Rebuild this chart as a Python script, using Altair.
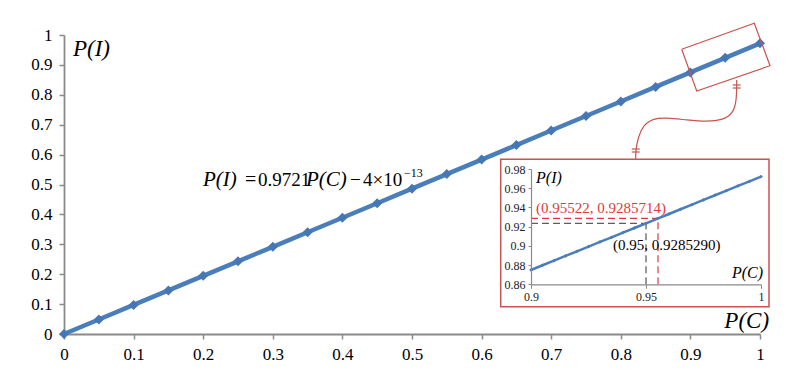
import altair as alt
import pandas as pd

FONT = "Times New Roman, Liberation Serif, Tinos, DejaVu Serif, serif"
BLUE = "#4A7EBB"
RED = "#C9534F"
TXT_RED = "#E0393E"
AXIS_GRAY = "#8A8A8A"

# ---------------- data ----------------
p_c = [0.0, 0.05, 0.1, 0.15, 0.2, 0.25, 0.3, 0.35, 0.4, 0.45, 0.5,
       0.55, 0.6, 0.65, 0.7, 0.75, 0.8, 0.85, 0.9, 0.95, 1.0]
p_i = [0.0, 0.0486, 0.0972, 0.1458, 0.1944, 0.2430, 0.2916, 0.3402, 0.3888, 0.4374, 0.4861,
       0.5347, 0.5833, 0.6319, 0.6805, 0.7291, 0.7777, 0.8263, 0.8749, 0.9235, 0.9721]

inset_pc = [0.9, 0.905, 0.91, 0.915, 0.92, 0.925, 0.93, 0.935, 0.94, 0.945, 0.95,
            0.955, 0.96, 0.965, 0.97, 0.975, 0.98, 0.985, 0.99, 0.995, 1.0]
inset_pi = [0.8749, 0.8798, 0.8846, 0.8895, 0.8943, 0.8992, 0.9041, 0.9089, 0.9138, 0.9186, 0.9235,
            0.9284, 0.9332, 0.9381, 0.9429, 0.9478, 0.9527, 0.9575, 0.9624, 0.9672, 0.9721]

main_x_ticks = [0, 0.1, 0.2, 0.3, 0.4, 0.5, 0.6, 0.7, 0.8, 0.9, 1]
main_y_ticks = [0, 0.1, 0.2, 0.3, 0.4, 0.5, 0.6, 0.7, 0.8, 0.9, 1]
inset_x_ticks = [0.9, 0.95, 1]
inset_y_ticks = [0.86, 0.88, 0.9, 0.92, 0.94, 0.96, 0.98]

# marked points in the inset
black_pt = (0.95, 0.9235)
red_pt = (0.95522, 0.9285714)
black_label = "(0.95, 0.9285290)"
red_label = "(0.95522, 0.9285714)"

# zoom box drawn around the top of the main line (main data units)
zoom_box_x = [0.8875, 0.9918, 1.0144, 0.9091, 0.8875]
zoom_box_y = [0.9522, 1.0391, 0.8973, 0.8127, 0.9522]

# connector curve from zoom box down to the inset (main data units)
conn_x = [0.9665, 0.9665, 0.9616, 0.9473, 0.9234, 0.8947, 0.8659, 0.8467, 0.8323, 0.8251, 0.8214, 0.8214]
conn_y = [0.8495, 0.7826, 0.7381, 0.7157, 0.7100, 0.7157, 0.7234, 0.7214, 0.6990, 0.6599, 0.6154, 0.5843]

# small double break marks on the connector
brk_x1 = [0.9608, 0.9608, 0.8157, 0.8157]
brk_x2 = [0.9723, 0.9723, 0.8272, 0.8272]
brk_y = [0.8328, 0.8227, 0.6187, 0.6087]

# inset frame (inset data units)
inset_frame = dict(x0=0.88683, x1=1.00348, y0=0.83669, y1=0.99010)

# ---------------- scales / axes ----------------
MXS = alt.Scale(domain=[0, 1], nice=False, zero=False)
MYS = alt.Scale(domain=[0, 1], nice=False, zero=False)
MXA = alt.Axis(orient="bottom", values=main_x_ticks, format="~g", title=None, grid=False,
               labelFont=FONT, labelFontSize=17, labelColor="black", labelPadding=7,
               tickSize=5, tickColor=AXIS_GRAY, tickWidth=1.5,
               domainColor=AXIS_GRAY, domainWidth=1.8, labelFlush=False)
MYA = alt.Axis(orient="left", values=main_y_ticks, format="~g", title=None, grid=False,
               labelFont=FONT, labelFontSize=17, labelColor="black", labelPadding=7,
               tickSize=5, tickColor=AXIS_GRAY, tickWidth=1.5,
               domainColor=AXIS_GRAY, domainWidth=1.8, labelFlush=False)

IXS = alt.Scale(domain=[0.9, 1], range=[467, 697], nice=False, zero=False)
IYS = alt.Scale(domain=[0.86, 0.98], range=[249.3, 134], nice=False, zero=False)
IXA = alt.Axis(orient="bottom", offset=-49.7, values=inset_x_ticks, format="~g", title=None,
               grid=False, zindex=1, labelFont=FONT, labelFontSize=12, labelColor="#222222",
               labelPadding=3, tickSize=4, tickColor=AXIS_GRAY, domainColor=AXIS_GRAY,
               domainWidth=1.2, labelFlush=False)
IYA = alt.Axis(orient="left", offset=-467, values=inset_y_ticks, format="~g", title=None,
               grid=False, zindex=1, labelFont=FONT, labelFontSize=12, labelColor="#222222",
               labelPadding=3, tickSize=3, tickColor=AXIS_GRAY, domainColor=AXIS_GRAY,
               domainWidth=1.2, labelFlush=False)


def mx(f):
    return alt.X(f, type="quantitative", scale=MXS, axis=MXA)


def my(f):
    return alt.Y(f, type="quantitative", scale=MYS, axis=MYA)


def ix(f):
    return alt.X(f, type="quantitative", scale=IXS, axis=IXA)


def iy(f):
    return alt.Y(f, type="quantitative", scale=IYS, axis=IYA)


# ---------------- main layers ----------------
main_df = pd.DataFrame({"x": p_c, "y": p_i})
main_line = alt.Chart(main_df).mark_line(color=BLUE, strokeWidth=4.5).encode(x=mx("x"), y=my("y"))
main_pts = alt.Chart(main_df).mark_point(shape="diamond", filled=True, size=100, color="#4677B5",
                                         opacity=1).encode(x=mx("x"), y=my("y"))

box_df = pd.DataFrame({"x": zoom_box_x, "y": zoom_box_y, "i": list(range(len(zoom_box_x)))})
zoom_box = alt.Chart(box_df).mark_line(color=RED, strokeWidth=1.2, clip=False).encode(
    x=mx("x"), y=my("y"), order="i:Q")

conn_df = pd.DataFrame({"x": conn_x, "y": conn_y, "i": list(range(len(conn_x)))})
conn = alt.Chart(conn_df).mark_line(color=RED, strokeWidth=1.2, interpolate="basis",
                                    clip=False).encode(x=mx("x"), y=my("y"), order="i:Q")

brk_df = pd.DataFrame({"x": brk_x1, "x2": brk_x2, "y": brk_y})
brk = alt.Chart(brk_df).mark_rule(color=RED, strokeWidth=1.2).encode(
    x=mx("x"), x2="x2", y=my("y"))

lbl_df = pd.DataFrame({"x": [0.0129, 1.013], "y": [0.93, 0.02], "t": ["P(I)", "P(C)"]})
ax_pi = alt.Chart(lbl_df.iloc[[0]]).mark_text(font=FONT, fontSize=23, fontStyle="italic",
                                               align="left", baseline="alphabetic",
                                               color="black").encode(x=mx("x"), y=my("y"), text="t")
ax_pc = alt.Chart(lbl_df.iloc[[1]]).mark_text(font=FONT, fontSize=23, fontStyle="italic",
                                               align="right", baseline="alphabetic",
                                               color="black").encode(x=mx("x"), y=my("y"), text="t")

eq_anchor = pd.DataFrame({"x": [0.1997], "y": [0.495]})
eq_pieces = [
    ("P(I)", 0, 0, 21, "italic"),
    ("=", 42, 0, 20, "normal"),
    ("0.9721", 55, 0, 19, "normal"),
    ("P(C)", 103, 0, 21, "italic"),
    ("\u2212", 147, 0, 19, "normal"),
    ("4\u00d710", 160, 0, 19, "normal"),
    ("\u221213", 201, -9, 12, "normal"),
]
eq_layers = []
for txt, dx, dy, fs, st in eq_pieces:
    eq_layers.append(
        alt.Chart(eq_anchor).mark_text(text=txt, dx=dx, dy=dy, font=FONT, fontSize=fs,
                                       fontStyle=st, align="left", baseline="alphabetic",
                                       color="black").encode(x=mx("x"), y=my("y")))

main = alt.layer(main_line, main_pts, zoom_box, conn, brk, ax_pi, ax_pc, *eq_layers)

# ---------------- inset layers ----------------
frame_df = pd.DataFrame([inset_frame])
frame = alt.Chart(frame_df).mark_rect(fill="white", stroke=RED, strokeWidth=1.5, clip=False).encode(
    x=ix("x0"), x2="x1", y=iy("y0"), y2="y1")

inset_df = pd.DataFrame({"x": inset_pc, "y": inset_pi})
inset_line = alt.Chart(inset_df).mark_line(color=BLUE, strokeWidth=2.5).encode(x=ix("x"), y=iy("y"))
inset_pts = alt.Chart(inset_df).mark_point(shape="diamond", filled=True, size=14, color=BLUE,
                                           opacity=1).encode(x=ix("x"), y=iy("y"))

blk_df = pd.DataFrame({"x": [black_pt[0], 0.9], "x2": [black_pt[0], black_pt[0]],
                       "y": [0.86, black_pt[1]], "y2": [black_pt[1], black_pt[1]]})
red_df = pd.DataFrame({"x": [red_pt[0], 0.9], "x2": [red_pt[0], red_pt[0]],
                       "y": [0.86, red_pt[1]], "y2": [red_pt[1], red_pt[1]]})
blk_dash = alt.Chart(blk_df).mark_rule(color="#333333", strokeWidth=1, strokeDash=[7, 4]).encode(
    x=ix("x"), x2="x2", y=iy("y"), y2="y2")
red_dash = alt.Chart(red_df).mark_rule(color=TXT_RED, strokeWidth=1.2, strokeDash=[7, 4]).encode(
    x=ix("x"), x2="x2", y=iy("y"), y2="y2")

itxt = pd.DataFrame({
    "x": [0.9022, 1.0009, 0.9022, 0.9357],
    "y": [0.9654, 0.8666, 0.9342, 0.8957],
    "t": ["P(I)", "P(C)", red_label, black_label],
})
i_pi = alt.Chart(itxt.iloc[[0]]).mark_text(font=FONT, fontSize=16, fontStyle="italic", align="left",
                                            baseline="alphabetic", color="black").encode(
    x=ix("x"), y=iy("y"), text="t")
i_pc = alt.Chart(itxt.iloc[[1]]).mark_text(font=FONT, fontSize=16, fontStyle="italic", align="right",
                                            baseline="alphabetic", color="black").encode(
    x=ix("x"), y=iy("y"), text="t")
i_red = alt.Chart(itxt.iloc[[2]]).mark_text(font=FONT, fontSize=15, align="left",
                                             baseline="alphabetic", color=TXT_RED).encode(
    x=ix("x"), y=iy("y"), text="t")
i_blk = alt.Chart(itxt.iloc[[3]]).mark_text(font=FONT, fontSize=15, align="left",
                                             baseline="alphabetic", color="black").encode(
    x=ix("x"), y=iy("y"), text="t")

inset = alt.layer(frame, blk_dash, red_dash, inset_line, inset_pts, i_pi, i_pc, i_red, i_blk)

chart = alt.layer(main, inset).resolve_scale(x="independent", y="independent").properties(
    width=696, height=299,
    padding={"left": 56, "top": 27, "right": 28, "bottom": 30},
    autosize="none",
    background="white",
).configure_view(stroke=None)

chart.save("out.html", embed_options={"renderer": "svg", "actions": False})
